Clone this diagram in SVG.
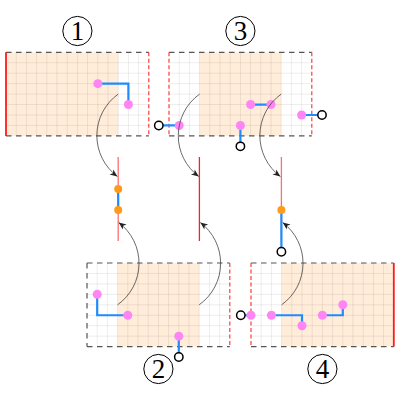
<svg xmlns="http://www.w3.org/2000/svg" xmlns:xlink="http://www.w3.org/1999/xlink" width="400" height="400" viewBox="0 0 400 400">
<style>
.fill{fill:#ffecd9;stroke:none}
.grid{fill:none;stroke:#000;stroke-opacity:0.09;stroke-width:0.8}
.gd{fill:none;stroke:#555;stroke-width:1.2;stroke-dasharray:5.5 4.5}
.rd{fill:none;stroke:#ff3b3b;stroke-width:1.2;stroke-dasharray:4 2.5}
.rs{fill:none;stroke:#ff1a1a;stroke-width:1.8}
.bl{fill:none;stroke:#1e8cff;stroke-width:2.2}
.pk{fill:#ff85f5;stroke:none}
.or{fill:#ff9a1a;stroke:none}
.oc{fill:#fff;stroke:#000;stroke-width:1.5}
.arc{fill:none;stroke:#444;stroke-width:0.8;marker-end:url(#ah)}
.lab{fill:none;stroke:#000;stroke-width:1}
.num{font-family:"Liberation Serif","Times New Roman",serif;font-size:27px;text-anchor:middle;fill:#000}
.rl{stroke:#ff2020;stroke-width:1.3;fill:none}
</style>
<defs>
<marker id="ah" viewBox="-8 -4 8.5 8" refX="0" refY="0" markerWidth="8.5" markerHeight="8" markerUnits="userSpaceOnUse" orient="auto">
<path d="M0,0 L-7.5,-3.2 L-5.5,0 L-7.5,3.2 Z" fill="#222"/>
</marker>
<path id="gridlines" class="grid" d="M10.2 0V83.6M20.4 0V83.6M30.6 0V83.6M40.8 0V83.6M51 0V83.6M61.2 0V83.6M71.4 0V83.6M81.6 0V83.6M91.8 0V83.6M102 0V83.6M112.2 0V83.6M122.4 0V83.6M132.6 0V83.6M0 10.45H142.8M0 20.9H142.8M0 31.35H142.8M0 41.8H142.8M0 52.25H142.8M0 62.7H142.8M0 73.15H142.8"/>
</defs>

<g id="box1" transform="translate(6,52.3)">
<rect class="fill" x="0" y="0" width="112.2" height="83.6"/>
<use xlink:href="#gridlines"/>
<path class="gd" d="M0 0H142.8M0 83.6H142.8"/>
<path class="rs" d="M0 0V83.6"/>
<path class="rd" d="M142.8 0V83.6"/>
<path class="bl" d="M91.8 31.35H122.4V52.25"/>
<circle class="pk" cx="91.8" cy="31.35" r="4.5"/>
<circle class="pk" cx="122.4" cy="52.25" r="4.5"/>
</g>

<g id="box3" transform="translate(169,52.3)">
<rect class="fill" x="30.6" y="0" width="81.6" height="83.6"/>
<use xlink:href="#gridlines"/>
<path class="gd" d="M0 0H142.8M0 83.6H142.8"/>
<path class="rd" d="M0 0V83.6M142.8 0V83.6"/>
<path class="bl" d="M-10.2 73.15H10.2M81.6 52.25H102M71.4 73.15V94.05M132.6 62.7H153"/>
<circle class="oc" cx="-10.2" cy="73.15" r="4.2"/>
<circle class="pk" cx="10.2" cy="73.15" r="4.5"/>
<circle class="pk" cx="81.6" cy="52.25" r="4.5"/>
<circle class="pk" cx="102" cy="52.25" r="4.5"/>
<circle class="pk" cx="71.4" cy="73.15" r="4.5"/>
<circle class="oc" cx="71.4" cy="94.05" r="4.2"/>
<circle class="pk" cx="132.6" cy="62.7" r="4.5"/>
<circle class="oc" cx="153" cy="62.7" r="4.2"/>
</g>

<g id="box2" transform="translate(87,263)">
<rect class="fill" x="30.6" y="0" width="81.6" height="83.6"/>
<use xlink:href="#gridlines"/>
<path class="gd" d="M0 0H142.8M0 83.6H142.8M0 0V83.6"/>
<path class="rd" d="M142.8 0V83.6"/>
<path class="bl" d="M10.2 31.35V52.25H40.8M91.8 73.15V94.05"/>
<circle class="pk" cx="10.2" cy="31.35" r="4.5"/>
<circle class="pk" cx="40.8" cy="52.25" r="4.5"/>
<circle class="pk" cx="91.8" cy="73.15" r="4.5"/>
<circle class="oc" cx="91.8" cy="94.05" r="4.2"/>
</g>

<g id="box4" transform="translate(251,263)">
<rect class="fill" x="30.6" y="0" width="112.2" height="83.6"/>
<use xlink:href="#gridlines"/>
<path class="gd" d="M0 0H142.8M0 83.6H142.8"/>
<path class="rd" d="M0 0V83.6"/>
<path class="rs" d="M142.8 0V83.6"/>
<path class="bl" d="M-10.2 52.25H0M20.4 52.25H51V62.7M71.4 52.25H91.8V41.8"/>
<circle class="oc" cx="-10.2" cy="52.25" r="4.2"/>
<circle class="pk" cx="0" cy="52.25" r="4.5"/>
<circle class="pk" cx="20.4" cy="52.25" r="4.5"/>
<circle class="pk" cx="51" cy="62.7" r="4.5"/>
<circle class="pk" cx="71.4" cy="52.25" r="4.5"/>
<circle class="pk" cx="91.8" cy="41.8" r="4.5"/>
</g>

<g id="seam-left">
<path class="rl" stroke-opacity="0.65" d="M118.2 157V241"/>
<path class="bl" d="M118.2 189V210"/>
<circle class="or" cx="118.2" cy="189" r="4"/>
<circle class="or" cx="118.2" cy="210" r="4"/>
</g>
<g id="seam-mid">
<path class="rl" d="M199.4 157V241"/>
</g>
<g id="seam-right">
<path class="rl" stroke-opacity="0.65" d="M281.4 157V241"/>
<path class="bl" d="M281.4 210V251.8"/>
<circle class="or" cx="281.4" cy="210" r="4"/>
<circle class="oc" cx="281.4" cy="251.8" r="4.2"/>
</g>

<g id="connectors">
<path class="arc" d="M118.2 94.1A51 51 0 0 0 117.4 176.5"/>
<path class="arc" d="M199.6 94.1A51 51 0 0 0 198.8 176.5"/>
<path class="arc" d="M281.2 94.1A51 51 0 0 0 280.4 176.5"/>
<path class="arc" d="M117.6 304.8A51 51 0 0 0 118.7 222.5"/>
<path class="arc" d="M199.2 304.8A51 51 0 0 0 200.3 222.5"/>
<path class="arc" d="M281.6 304.8A51 51 0 0 0 282.7 222.5"/>
</g>

<g id="labels">
<circle class="lab" cx="77.4" cy="31" r="14.6"/>
<text class="num" x="77.4" y="40.2">1</text>
<circle class="lab" cx="240.4" cy="31" r="14.6"/>
<text class="num" x="240.4" y="40.2">3</text>
<circle class="lab" cx="158.4" cy="369" r="14.6"/>
<text class="num" x="158.4" y="378.2">2</text>
<circle class="lab" cx="322.4" cy="369" r="14.6"/>
<text class="num" x="322.4" y="378.2">4</text>
</g>
</svg>
